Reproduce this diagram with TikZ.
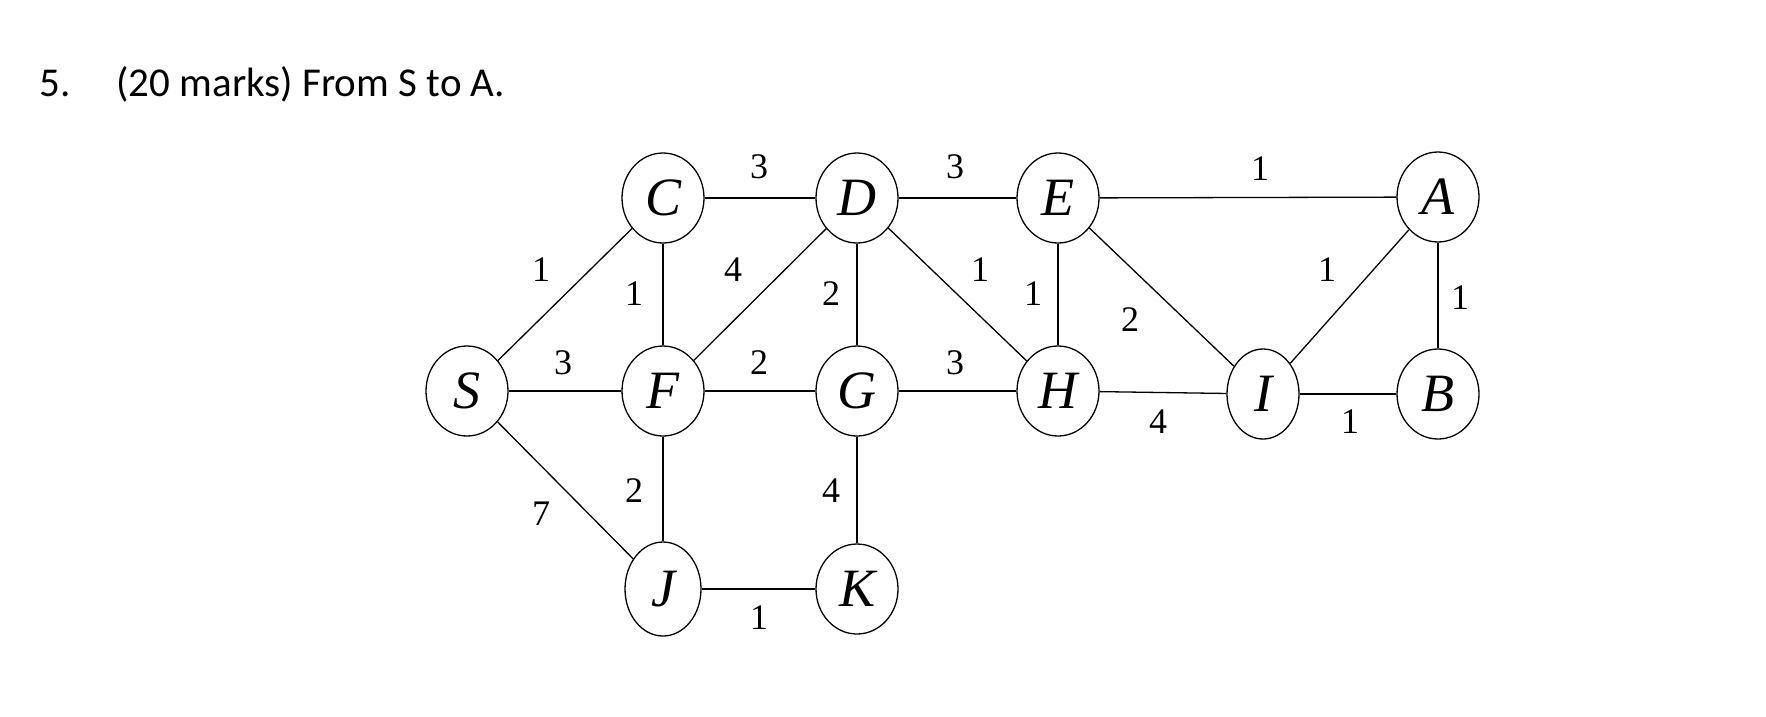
\documentclass[tikz,border=0pt]{standalone}
\usepackage{fontspec}
\setmainfont{Liberation Serif}
\newfontfamily\titlefont{Carlito}
\usetikzlibrary{shapes.geometric}
\begin{document}
\begin{tikzpicture}[x=1pt,y=-1pt,
  vtx/.style={ellipse,draw,line width=1.3pt,minimum width=82pt,minimum height=90pt,inner sep=0pt,font=\fontsize{54}{54}\selectfont\itshape},
  wt/.style={font=\fontsize{36}{36}\selectfont},
  edge/.style={line width=1.3pt}]
\useasboundingbox (0,0) rectangle (1766,716);
\node[anchor=west,font=\titlefont\fontsize{41}{41}\selectfont] (n5) at (36,84) {5.};
\node[anchor=west,font=\titlefont\fontsize{41}{41}\selectfont] (title) at (113,84) {(20 marks) From S to A.};
\node[vtx] (S) at (467,391) {S};
\node[vtx] (C) at (663,198) {C};
\node[vtx] (D) at (857,198) {D};
\node[vtx] (E) at (1058,198) {E};
\node[vtx] (A) at (1438,197) {A};
\node[vtx] (F) at (663,391) {F};
\node[vtx] (G) at (857,391) {G};
\node[vtx] (H) at (1058,391) {H};
\node[vtx,minimum width=72pt] (I) at (1263,394) {I};
\node[vtx] (B) at (1438,394) {B};
\node[vtx,minimum width=76pt,minimum height=94pt] (J) at (663,589) {J};
\node[vtx] (K) at (857,589) {K};
\foreach \a/\b in {C/D,D/E,E/A,S/C,C/F,D/F,D/G,D/H,E/H,E/I,A/I,A/B,S/F,F/G,G/H,H/I,I/B,S/J,F/J,G/K,J/K}
  \draw[edge] (\a) -- (\b);
\node[wt] (w1) at (759,167) {3};
\node[wt] (w2) at (955,167) {3};
\node[wt] (w3) at (1260,169) {1};
\node[wt] (w4) at (541,270) {1};
\node[wt] (w5) at (634,294) {1};
\node[wt] (w6) at (733,270) {4};
\node[wt] (w7) at (831,294) {2};
\node[wt] (w8) at (980,270) {1};
\node[wt] (w9) at (1033,294) {1};
\node[wt] (w10) at (1130,320) {2};
\node[wt] (w11) at (1327,270) {1};
\node[wt] (w12) at (1460,298) {1};
\node[wt] (w13) at (563,363) {3};
\node[wt] (w14) at (759,363) {2};
\node[wt] (w15) at (955,363) {3};
\node[wt] (w16) at (1158,422) {4};
\node[wt] (w17) at (1350,422) {1};
\node[wt] (w18) at (541,514) {7};
\node[wt] (w19) at (634,491) {2};
\node[wt] (w20) at (831,491) {4};
\node[wt] (w21) at (759,618) {1};
\end{tikzpicture}
\end{document}
